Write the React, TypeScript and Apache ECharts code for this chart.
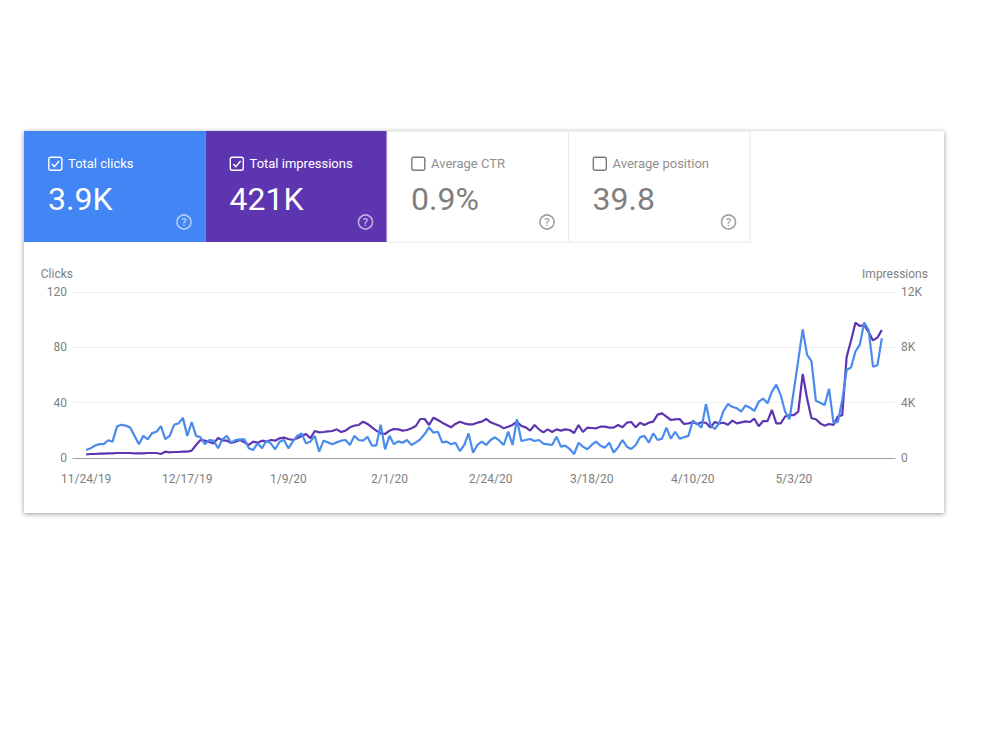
import React, { useEffect, useRef } from "react";
import * as echarts from "echarts";

const tickLabels = ["11/24/19", "12/17/19", "1/9/20", "2/1/20", "2/24/20", "3/18/20", "4/10/20", "5/3/20"];

const clicks = [
  5.8, 7, 9, 10, 10, 12.8, 11.8, 22.7, 24, 23.4,
  22, 16, 10, 16, 13.5, 18, 19, 23, 13.7, 16,
  24, 25, 29, 16, 26, 16, 15, 10, 13, 12.5,
  7, 13.5, 16, 11, 13, 13.5, 13.5, 7, 5.8, 10.6,
  7, 12.5, 10.6, 6.3, 11.8, 13, 7, 11.8, 16, 17.8,
  10.6, 11.8, 16, 4.6, 12.5, 11.3, 10, 11.3, 12.5, 13,
  9.4, 16, 13, 12.5, 15.4, 9, 9, 24, 6.3, 16,
  10, 12, 11, 13, 9.4, 11.3, 13.5, 17.3, 22.2, 18.3,
  19, 11.3, 11.8, 9.9, 11, 5, 9.4, 17.8, 3.9, 9.4,
  11.8, 9.4, 13, 15, 12.5, 9.4, 19, 9.4, 28, 12.3,
  13, 13.7, 12.3, 13, 10.4, 9.9, 9.4, 15.4, 8.2, 8.9,
  6.5, 2.9, 11, 8.2, 6.3, 9.4, 11.8, 8.9, 7.5, 11,
  3.9, 7.7, 13, 8.2, 6.5, 9.4, 15, 16, 11, 17.8,
  13, 14, 22, 14, 19, 14, 15, 16, 27, 24.6,
  22, 39, 24, 21, 25, 34, 39, 37, 36, 33.5,
  38, 36.4, 34, 40.7, 43, 39.5, 48, 53, 45.5, 33.5,
  28, 49, 71, 93, 74.5, 70, 41.4, 40, 38.3, 50,
  25.5, 26, 42, 63.6, 65.5, 77, 82, 98, 92.5, 66, 67, 86.5,
];

const impressions = [
  265, 289, 289, 313, 313, 337, 337, 361, 361, 361,
  361, 337, 337, 337, 361, 361, 361, 289, 458, 410,
  434, 434, 458, 458, 530, 940, 1301, 1253, 1157, 1060,
  1446, 1277, 1253, 1084, 1181, 1301, 1133, 940, 1181, 1109,
  1253, 1181, 1301, 1253, 1422, 1470, 1374, 1301, 1422, 1591,
  1735, 1422, 1952, 1856, 1880, 1928, 1952, 2073, 1880, 1976,
  2217, 2338, 2386, 2627, 2458, 2217, 1976, 1783, 1735, 1976,
  2097, 2073, 1976, 2024, 2150, 2314, 2820, 2820, 2386, 2916,
  2747, 2555, 2386, 2217, 2458, 2627, 2506, 2434, 2434, 2555,
  2627, 2820, 2579, 2458, 2338, 2145, 2265, 2386, 2627, 2314,
  2217, 1976, 2386, 2073, 1856, 2073, 1880, 2073, 1976, 2073,
  2024, 1807, 2386, 1880, 2193, 2169, 2145, 2265, 2265, 2193,
  2193, 2386, 2217, 2555, 2603, 2217, 2555, 2386, 2555, 2627,
  3133, 3229, 2988, 2747, 2796, 2820, 2458, 2506, 2579, 2458,
  2579, 2550, 2200, 2600, 2500, 2550, 2400, 2700, 2500, 2580,
  2650, 2600, 2840, 2300, 2670, 2670, 3470, 2500, 2500, 3000,
  3100, 3100, 3350, 6070, 4300, 2870, 2800, 2500, 2340, 2460,
  2390, 3000, 3100, 7300, 8500, 9780, 9540, 9600, 9100, 8500, 8700, 9250,
];

const metricTitles = ["Total clicks", "Total impressions", "Average CTR", "Average position"];
const metricValues = ["3.9K", "421K", "0.9%", "39.8"];
const metricSelected = [true, true, false, false];
const metricFills = ["#4285F4", "#5E35B1", "#FFFFFF", "#FFFFFF"];

const PAD = 3;
const firstDay = Date.UTC(2019, 10, 24);
const dayLabels = clicks.map((_, i) => {
  const d = new Date(firstDay + i * 86400000);
  return `${d.getUTCMonth() + 1}/${d.getUTCDate()}/${String(d.getUTCFullYear()).slice(2)}`;
});
const blanks = Array.from({ length: PAD }, () => null);
const categories = [
  ...Array.from({ length: PAD }, (_, i) => `s${i}`),
  ...dayLabels,
  ...Array.from({ length: PAD }, (_, i) => `e${i}`),
];

const FONT = "Roboto";

function tile(i: number) {
  const x = 24 + i * 181.5;
  const on = metricSelected[i];
  const fg = on ? "#FFFFFF" : "#7A7A7A";
  const els: any[] = [
    {
      type: "rect",
      shape: { x, y: 131, width: 181.5, height: 111 },
      style: on ? { fill: metricFills[i] } : { fill: "#FFFFFF", stroke: "#E8E8E8", lineWidth: 1 },
      z: 2,
    },
    {
      type: "rect",
      shape: { x: x + 24.8, y: 157.3, width: 13, height: 13, r: 2 },
      style: { fill: "transparent", stroke: fg, lineWidth: 1.4 },
      z: 3,
    },
    {
      type: "text",
      x: x + 44,
      y: 163.5,
      style: { text: metricTitles[i], fill: on ? "#FFFFFF" : "#8F8F8F", font: `13px ${FONT}`, verticalAlign: "middle" },
      z: 3,
    },
    {
      type: "text",
      x: x + 24,
      y: 199,
      style: { text: metricValues[i], fill: on ? "#FFFFFF" : "#7F7F7F", font: `32px ${FONT}`, verticalAlign: "middle" },
      z: 3,
    },
    {
      type: "circle",
      shape: { cx: x + 160, cy: 222, r: 7 },
      style: { fill: "transparent", stroke: on ? "rgba(255,255,255,0.6)" : "#A0A0A0", lineWidth: 1.6 },
      z: 3,
    },
    {
      type: "text",
      x: x + 160,
      y: 222.5,
      style: {
        text: "?",
        fill: on ? "rgba(255,255,255,0.65)" : "#A0A0A0",
        font: `500 11px ${FONT}`,
        align: "center",
        verticalAlign: "middle",
      },
      z: 3,
    },
  ];
  if (on) {
    els.push({
      type: "polyline",
      shape: { points: [[x + 27.8, 164], [x + 30.3, 166.6], [x + 35.1, 161]] },
      style: { stroke: "#FFFFFF", lineWidth: 1.4, fill: "none" },
      z: 3,
    });
  }
  return els;
}

export default function App() {
  const ref = useRef<HTMLDivElement>(null);
  useEffect(() => {
    const chart = echarts.init(ref.current!, null, { renderer: "svg" });
    const labelStyle = { color: "#808080", fontFamily: FONT, fontSize: 12 };
    chart.setOption({
      animation: false,
      backgroundColor: "#FFFFFF",
      textStyle: { fontFamily: FONT },
      grid: { left: 73, right: 105, top: 292, bottom: 292, containLabel: false },
      graphic: [
        {
          type: "rect",
          shape: { x: 24, y: 131, width: 920, height: 382, r: 1 },
          style: { fill: "#FFFFFF", shadowBlur: 5, shadowColor: "rgba(0,0,0,0.4)", shadowOffsetY: 1 },
          z: -1,
          silent: true,
        },
        ...[0, 1, 2, 3].flatMap(tile),
      ],
      xAxis: {
        type: "category",
        boundaryGap: false,
        data: categories,
        axisTick: { show: false },
        axisLine: { show: true, lineStyle: { color: "#9E9E9E", width: 1 } },
        splitLine: { show: false },
        axisLabel: {
          ...labelStyle,
          margin: 15,
          interval: (i: number) => tickLabels.includes(categories[i]),
          hideOverlap: false,
        },
      },
      yAxis: [
        {
          type: "value",
          min: 0,
          max: 120,
          interval: 40,
          position: "left",
          name: "Clicks",
          nameLocation: "end",
          nameGap: 18,
          nameTextStyle: { ...labelStyle, align: "right", verticalAlign: "middle" },
          axisLine: { show: false },
          axisTick: { show: false },
          axisLabel: { ...labelStyle, margin: 6 },
          splitLine: { show: true, lineStyle: { color: "#EFEFEF", width: 1 } },
        },
        {
          type: "value",
          min: 0,
          max: 12000,
          interval: 4000,
          position: "right",
          name: "Impressions",
          nameLocation: "end",
          nameGap: 18,
          nameTextStyle: { ...labelStyle, align: "center", verticalAlign: "middle" },
          axisLine: { show: false },
          axisTick: { show: false },
          axisLabel: {
            ...labelStyle,
            margin: 6,
            formatter: (v: number) => (v === 0 ? "0" : `${v / 1000}K`),
          },
          splitLine: { show: false },
        },
      ],
      series: [
        {
          name: "Total impressions",
          type: "line",
          yAxisIndex: 1,
          data: [...blanks, ...impressions, ...blanks],
          showSymbol: false,
          lineStyle: { color: "#5E35B1", width: 2.2 },
          itemStyle: { color: "#5E35B1" },
          z: 3,
        },
        {
          name: "Total clicks",
          type: "line",
          yAxisIndex: 0,
          data: [...blanks, ...clicks, ...blanks],
          showSymbol: false,
          lineStyle: { color: "#4A8BEC", width: 2.2 },
          itemStyle: { color: "#4A8BEC" },
          z: 4,
        },
      ],
    });
    return () => chart.dispose();
  }, []);
  return <div ref={ref} style={{ position: "fixed", left: 0, top: 0, width: 1000, height: 750 }} />;
}
